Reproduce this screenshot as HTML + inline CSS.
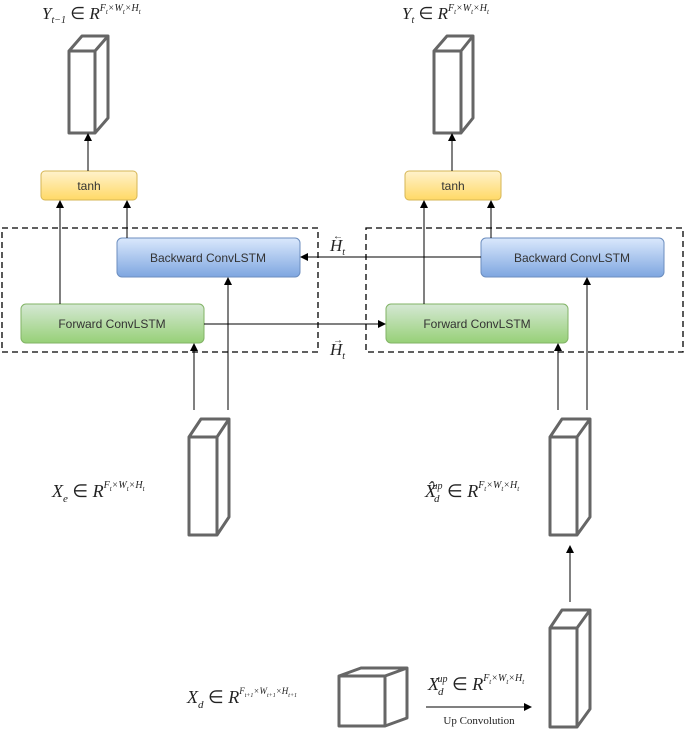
<!DOCTYPE html>
<html><head><meta charset="utf-8"><style>
body{margin:0;background:#fff}
svg{display:block}
.m{font-family:"Liberation Serif",serif;font-style:italic;fill:#222}
.b{font-family:"Liberation Sans",sans-serif;font-size:12px;fill:#333;text-anchor:middle}
</style></head><body>
<svg width="685" height="730" viewBox="0 0 685 730" xmlns="http://www.w3.org/2000/svg">
<defs>
<marker id="a" markerWidth="8" markerHeight="8" refX="7" refY="4" orient="auto" markerUnits="userSpaceOnUse"><path d="M0,0 L8,4 L0,8 Z" fill="#000"/></marker>
<linearGradient id="g" x1="0" y1="0" x2="0" y2="1"><stop offset="0" stop-color="#d5e8d4"/><stop offset="1" stop-color="#97d077"/></linearGradient>
<linearGradient id="bl" x1="0" y1="0" x2="0" y2="1"><stop offset="0" stop-color="#dae8fc"/><stop offset="1" stop-color="#7ea6e0"/></linearGradient>
<linearGradient id="y" x1="0" y1="0" x2="0" y2="1"><stop offset="0" stop-color="#fff2cc"/><stop offset="1" stop-color="#ffd966"/></linearGradient>
</defs>
<g fill="none" stroke="#666" stroke-width="3" stroke-linejoin="round">
<!-- prisms: front rect + top + side -->
<path d="M69,51 H95 V133 H69 Z M69,51 L82,36 H108 L95,51 M108,36 V118 L95,133"/>
<path d="M434,51 H461 V133 H434 Z M434,51 L447,36 H473 L461,51 M473,36 V118 L461,133"/>
<path d="M189,437 H217 V535 H189 Z M189,437 L201,419 H229 L217,437 M229,419 V517 L217,535"/>
<path d="M550,437 H577 V535 H550 Z M550,437 L562,419 H590 L577,437 M590,419 V517 L577,535"/>
<path d="M550,628 H577 V727 H550 Z M550,628 L562,610 H590 L577,628 M590,610 V709 L577,727"/>
<path d="M339,676 H385 V726 H339 Z M339,676 L361,668 H407 L385,676 M407,668 V718 L385,726"/>
</g>
<g fill="none" stroke="#000" stroke-width="1.3" stroke-dasharray="6,4">
<rect x="2" y="228" width="316" height="124"/>
<rect x="366" y="228" width="317" height="124"/>
</g>
<rect x="41" y="171" width="96" height="29" rx="4" fill="url(#y)" stroke="#d6b656"/>
<rect x="405" y="171" width="96" height="29" rx="4" fill="url(#y)" stroke="#d6b656"/>
<text class="b" x="89" y="190">tanh</text><text class="b" x="453" y="190">tanh</text>
<rect x="117" y="238" width="183" height="39" rx="5" fill="url(#bl)" stroke="#6c8ebf"/>
<rect x="481" y="238" width="183" height="39" rx="5" fill="url(#bl)" stroke="#6c8ebf"/>
<text class="b" x="208" y="262">Backward ConvLSTM</text><text class="b" x="572" y="262">Backward ConvLSTM</text>
<rect x="21" y="304" width="183" height="39" rx="5" fill="url(#g)" stroke="#82b366"/>
<rect x="386" y="304" width="182" height="39" rx="5" fill="url(#g)" stroke="#82b366"/>
<text class="b" x="112" y="328">Forward ConvLSTM</text><text class="b" x="477" y="328">Forward ConvLSTM</text>
<g stroke="#000" stroke-width="1" marker-end="url(#a)">
<line x1="88" y1="171" x2="88" y2="134"/><line x1="452" y1="171" x2="452" y2="134"/>
<line x1="60" y1="304" x2="60" y2="201"/><line x1="127" y1="238" x2="127" y2="201"/>
<line x1="424" y1="304" x2="424" y2="201"/><line x1="491" y1="238" x2="491" y2="201"/>
<line x1="481" y1="257" x2="301" y2="257"/><line x1="204" y1="324" x2="385" y2="324"/>
<line x1="194" y1="410" x2="194" y2="344"/><line x1="228" y1="410" x2="228" y2="278"/>
<line x1="558" y1="410" x2="558" y2="344"/><line x1="587" y1="410" x2="587" y2="278"/>
<line x1="570" y1="602" x2="570" y2="546"/><line x1="426" y1="707" x2="531" y2="707"/>
</g>
<text class="m" x="42" y="19" font-size="17">Y<tspan font-size="10" dy="4">t−1</tspan><tspan dy="-4" font-style="normal"> ∈ </tspan>R<tspan font-size="10" dy="-8">F<tspan font-size="7" dy="3">t</tspan><tspan dy="-3">×W</tspan><tspan font-size="7" dy="3">t</tspan><tspan dy="-3">×H</tspan><tspan font-size="7" dy="3">t</tspan></tspan></text>
<text class="m" x="402" y="19" font-size="17">Y<tspan font-size="10" dy="4">t</tspan><tspan dy="-4" font-style="normal"> ∈ </tspan>R<tspan font-size="10" dy="-8">F<tspan font-size="7" dy="3">t</tspan><tspan dy="-3">×W</tspan><tspan font-size="7" dy="3">t</tspan><tspan dy="-3">×H</tspan><tspan font-size="7" dy="3">t</tspan></tspan></text>
<text class="m" x="330" y="251" font-size="17">H<tspan font-size="10" dy="4">t</tspan></text>
<text class="m" x="333" y="239" font-size="10">←</text>
<text class="m" x="330" y="355" font-size="17">H<tspan font-size="10" dy="4">t</tspan></text>
<text class="m" x="333" y="343" font-size="10">→</text>
<text class="m" x="52" y="497" font-size="18">X<tspan font-size="11" dy="5">e</tspan><tspan dy="-5" font-style="normal"> ∈ </tspan>R<tspan font-size="10" dy="-9">F<tspan font-size="7" dy="3">t</tspan><tspan dy="-3">×W</tspan><tspan font-size="7" dy="3">t</tspan><tspan dy="-3">×H</tspan><tspan font-size="7" dy="3">t</tspan></tspan></text>
<text class="m" x="425" y="497" font-size="18">X̂<tspan font-size="11" dy="5" dx="-2">d</tspan><tspan font-size="10" dy="-13" dx="-7">up</tspan><tspan dy="8" font-style="normal"> ∈ </tspan>R<tspan font-size="10" dy="-9">F<tspan font-size="7" dy="3">t</tspan><tspan dy="-3">×W</tspan><tspan font-size="7" dy="3">t</tspan><tspan dy="-3">×H</tspan><tspan font-size="7" dy="3">t</tspan></tspan></text>
<text class="m" x="428" y="690" font-size="18">X<tspan font-size="11" dy="5" dx="-1">d</tspan><tspan font-size="10" dy="-13" dx="-6">up</tspan><tspan dy="8" font-style="normal"> ∈ </tspan>R<tspan font-size="10" dy="-9">F<tspan font-size="7" dy="3">t</tspan><tspan dy="-3">×W</tspan><tspan font-size="7" dy="3">t</tspan><tspan dy="-3">×H</tspan><tspan font-size="7" dy="3">t</tspan></tspan></text>
<text class="m" x="187" y="703" font-size="18">X<tspan font-size="11" dy="5">d</tspan><tspan dy="-5" font-style="normal"> ∈ </tspan>R<tspan font-size="9" dy="-9">F<tspan font-size="6" dy="3">t+1</tspan><tspan dy="-3">×W</tspan><tspan font-size="6" dy="3">t+1</tspan><tspan dy="-3">×H</tspan><tspan font-size="6" dy="3">t+1</tspan></tspan></text>
<text x="479" y="724" font-family="Liberation Serif,serif" font-size="11" fill="#222" text-anchor="middle">Up Convolution</text>
</svg>
</body></html>
